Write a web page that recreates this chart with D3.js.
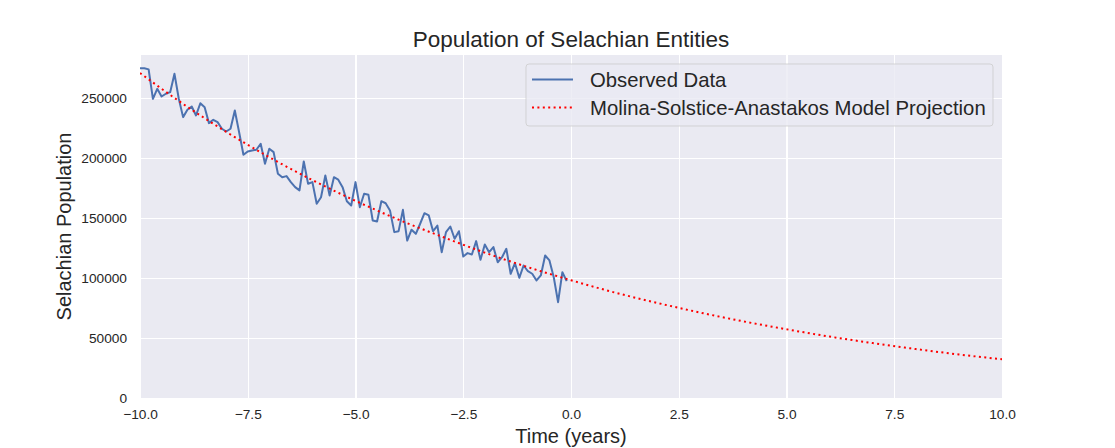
<!DOCTYPE html>
<html lang="en">
<head>
    <meta charset="UTF-8">
    <title>Population of Selachian Entities</title>
    <script src="https://d3js.org/d3.v7.min.js"></script>
    <style>
        body {
            margin: 0;
            background: white;
            font-family: "Liberation Sans", Arial, sans-serif;
        }
        .grid line {
            stroke: white;
            stroke-width: 1.2;
            shape-rendering: crispEdges;
        }
        .grid path { display: none; }
        .axis path, .axis line { display: none; }
        .axis text {
            font-size: 13.7px;
            fill: #262626;
            font-family: "Liberation Sans", Arial, sans-serif;
        }
    </style>
</head>
<body>
    <svg width="1115" height="448"></svg>

    <script>
        // observed data: one sample every 0.1 year starting at -10
        const obsStart = -10;
        const obsStep = 0.1;
        const obsValues = [
            275000, 275000, 274000, 249500, 257800, 251400, 253700, 255000, 270300, 249500,
            234200, 240300, 243100, 235600, 245800, 242500, 229200, 232000, 230000, 224500,
            222200, 224500, 239700, 221600, 202800, 205600, 206400, 207000, 212000, 195300,
            207800, 205000, 187000, 184100, 185000, 180000, 175800, 173100, 197200, 178600,
            180000, 162000, 167400, 185500, 168900, 184100, 182000, 175800, 164100, 160500,
            180000, 159100, 170300, 169400, 148000, 147200, 164100, 162400, 156400, 138300,
            139100, 156900, 131300, 140300, 136900, 145300, 154100, 152200, 139100, 143800,
            121600, 138300, 143000, 132800, 139100, 118000, 120800, 119700, 130800, 115200,
            128000, 121600, 125800, 113200, 117400, 124400, 103600, 112400, 100200, 110500,
            105700, 103600, 98000, 102200, 118800, 114700, 100700, 79900, 104900, 97400
        ];

        // model projection
        const modelTime = [-10, -9, -8, -7, -6, -5, -4, -3, -2, -1, 0, 1, 2, 3, 4, 5, 6, 7, 8, 9, 10];
        const modelValues = [
            271000, 245200, 221900, 200800, 181700, 164400, 148700, 134600, 121200, 109100,
            98200, 88100, 79300, 71200, 63900, 57300, 51200, 45800, 40800, 36300, 32300
        ];

        const xTicks = [-10, -7.5, -5, -2.5, 0, 2.5, 5, 7.5, 10];
        const yTicks = [0, 50000, 100000, 150000, 200000, 250000];

        const margin = { left: 140, right: 1002, top: 55, bottom: 398 };
        const width = margin.right - margin.left,
              height = margin.bottom - margin.top;

        const svg = d3.select("svg");

        const x = d3.scaleLinear().domain([-10, 10]).range([0, width]);
        const y = d3.scaleLinear().domain([0, 286000]).range([height, 0]);

        const g = svg.append("g").attr("transform", `translate(${margin.left},${margin.top})`);

        g.append("rect")
         .attr("width", width)
         .attr("height", height)
         .attr("fill", "#EAEAF2");

        g.append("defs").append("clipPath").attr("id", "clip")
         .append("rect").attr("width", width).attr("height", height);

        g.append("g")
         .attr("class", "grid")
         .call(d3.axisLeft(y).tickValues(yTicks).tickSize(-width).tickFormat(""));
        g.append("g")
         .attr("class", "grid")
         .attr("transform", `translate(0,${height})`)
         .call(d3.axisBottom(x).tickValues(xTicks).tickSize(-height).tickFormat(""));

        g.append("g")
         .attr("class", "axis")
         .attr("transform", `translate(0,${height})`)
         .call(d3.axisBottom(x).tickValues(xTicks).tickFormat(d3.format(".1f")).tickSize(0).tickPadding(11));

        g.append("g")
         .attr("class", "axis")
         .call(d3.axisLeft(y).tickValues(yTicks).tickFormat(d3.format("d")).tickSize(0).tickPadding(13));

        const obs = obsValues.map((v, i) => ({ t: obsStart + i * obsStep, v: v }));
        const model = modelTime.map((t, i) => ({ t: t, v: modelValues[i] }));

        const plot = g.append("g").attr("clip-path", "url(#clip)");

        plot.append("path")
            .datum(obs)
            .attr("fill", "none")
            .attr("stroke", "#4C72B0")
            .attr("stroke-width", 2)
            .attr("stroke-linejoin", "round")
            .attr("d", d3.line().x(d => x(d.t)).y(d => y(d.v)));

        plot.append("path")
            .datum(model)
            .attr("fill", "none")
            .attr("stroke", "red")
            .attr("stroke-width", 2)
            .attr("stroke-dasharray", "2,3.4")
            .attr("d", d3.line().curve(d3.curveMonotoneX).x(d => x(d.t)).y(d => y(d.v)));

        // title and axis labels
        svg.append("text")
           .attr("x", margin.left + width / 2)
           .attr("y", 47)
           .attr("text-anchor", "middle")
           .attr("fill", "#262626")
           .style("font-size", "22.5px")
           .text("Population of Selachian Entities");

        svg.append("text")
           .attr("x", margin.left + width / 2)
           .attr("y", 443)
           .attr("text-anchor", "middle")
           .attr("fill", "#262626")
           .style("font-size", "20px")
           .text("Time (years)");

        svg.append("text")
           .attr("transform", `translate(71,${margin.top + height / 2}) rotate(-90)`)
           .attr("text-anchor", "middle")
           .attr("fill", "#262626")
           .style("font-size", "20px")
           .text("Selachian Population");

        // legend
        const legend = svg.append("g").attr("transform", "translate(526,64)");
        legend.append("rect")
              .attr("width", 467)
              .attr("height", 62)
              .attr("rx", 3)
              .attr("fill", "rgba(234,234,242,0.8)")
              .attr("stroke", "rgba(204,204,204,0.8)");

        const items = [
            { label: "Observed Data", color: "#4C72B0", dash: null },
            { label: "Molina-Solstice-Anastakos Model Projection", color: "red", dash: "2,3.4" }
        ];

        items.forEach((d, i) => {
            const yy = 15.5 + i * 28;
            legend.append("line")
                  .attr("x1", 6).attr("x2", 47)
                  .attr("y1", yy).attr("y2", yy)
                  .attr("stroke", d.color)
                  .attr("stroke-width", 2)
                  .attr("stroke-dasharray", d.dash);
            legend.append("text")
                  .attr("x", 64)
                  .attr("y", yy + 7)
                  .attr("fill", "#262626")
                  .style("font-size", "20.3px")
                  .text(d.label);
        });
    </script>
</body>
</html>
